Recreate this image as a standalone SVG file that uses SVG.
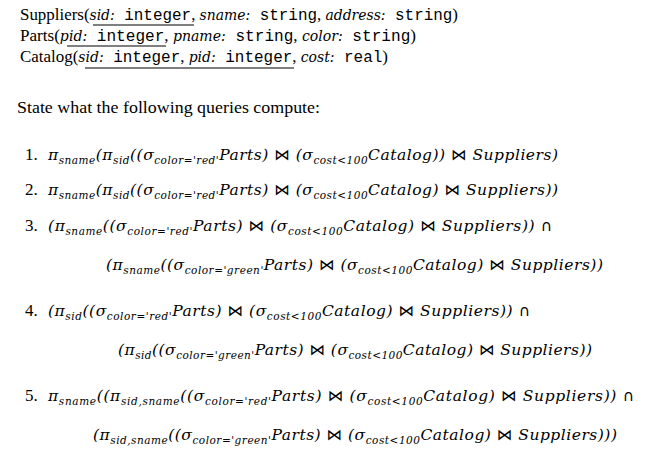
<svg xmlns="http://www.w3.org/2000/svg" width="663" height="462" viewBox="0 0 663 462">
<style>
text{font-family:"Liberation Serif",serif;font-size:17px;fill:#000}
.i{font-family:"DejaVu Serif",serif;font-style:italic;font-size:14px}
.m{font-family:"Liberation Mono",monospace;font-size:16px}
.q{font-family:"DejaVu Serif",serif;font-style:italic;font-size:15.5px}
.s{font-size:10.5px;font-style:italic}
.u{font-style:normal;font-family:"DejaVu Sans",sans-serif}
line{stroke:#000;stroke-width:1.2}
</style>
<rect width="663" height="462" fill="#fff"/>
<g id="schema">
<text x="20" y="20" textLength="438" lengthAdjust="spacingAndGlyphs">Suppliers(<tspan class="i">sid:</tspan><tspan class="m"> integer</tspan>, <tspan class="i">sname:</tspan><tspan class="m"> string</tspan>, <tspan class="i">address:</tspan><tspan class="m"> string</tspan>)</text>
<line x1="93" y1="25" x2="194" y2="25"/>
<text x="20" y="41" textLength="396" lengthAdjust="spacingAndGlyphs">Parts(<tspan class="i">pid:</tspan><tspan class="m"> integer</tspan>, <tspan class="i">pname:</tspan><tspan class="m"> string</tspan>, <tspan class="i">color:</tspan><tspan class="m"> string</tspan>)</text>
<line x1="67" y1="46" x2="166" y2="46"/>
<text x="20" y="62" textLength="368" lengthAdjust="spacingAndGlyphs">Catalog(<tspan class="i">sid:</tspan><tspan class="m"> integer</tspan>, <tspan class="i">pid:</tspan><tspan class="m"> integer</tspan>, <tspan class="i">cost:</tspan><tspan class="m"> real</tspan>)</text>
<line x1="85" y1="68" x2="294" y2="68"/>
<text x="17" y="113" textLength="303" lengthAdjust="spacingAndGlyphs">State what the following queries compute:</text>
</g>
<g id="queries">
<text x="25" y="160">1.</text>
<text class="q" x="48" y="160" textLength="510" lengthAdjust="spacing">π<tspan class="s" dy="4">sname</tspan><tspan dy="-4">(π</tspan><tspan class="s" dy="4">sid</tspan><tspan dy="-4">((σ</tspan><tspan class="s" dy="4">color='red'</tspan><tspan dy="-4">Parts) <tspan class="u">⋈</tspan> (σ</tspan><tspan class="s" dy="4">cost&lt;100</tspan><tspan dy="-4">Catalog)) <tspan class="u">⋈</tspan> Suppliers)</tspan></text>
<text x="25" y="195">2.</text>
<text class="q" x="48" y="195" textLength="510" lengthAdjust="spacing">π<tspan class="s" dy="4">sname</tspan><tspan dy="-4">(π</tspan><tspan class="s" dy="4">sid</tspan><tspan dy="-4">((σ</tspan><tspan class="s" dy="4">color='red'</tspan><tspan dy="-4">Parts) <tspan class="u">⋈</tspan> (σ</tspan><tspan class="s" dy="4">cost&lt;100</tspan><tspan dy="-4">Catalog) <tspan class="u">⋈</tspan> Suppliers))</tspan></text>
<text x="25" y="231">3.</text>
<text class="q" x="48" y="231" textLength="504" lengthAdjust="spacing">(π<tspan class="s" dy="4">sname</tspan><tspan dy="-4">((σ</tspan><tspan class="s" dy="4">color='red'</tspan><tspan dy="-4">Parts) <tspan class="u">⋈</tspan> (σ</tspan><tspan class="s" dy="4">cost&lt;100</tspan><tspan dy="-4">Catalog) <tspan class="u">⋈</tspan> Suppliers))  <tspan class="u">∩</tspan></tspan></text>
<text class="q" x="106" y="270" textLength="497" lengthAdjust="spacing">(π<tspan class="s" dy="4">sname</tspan><tspan dy="-4">((σ</tspan><tspan class="s" dy="4">color='green'</tspan><tspan dy="-4">Parts) <tspan class="u">⋈</tspan> (σ</tspan><tspan class="s" dy="4">cost&lt;100</tspan><tspan dy="-4">Catalog) <tspan class="u">⋈</tspan> Suppliers))</tspan></text>
<text x="25" y="316">4.</text>
<text class="q" x="48" y="316" textLength="482" lengthAdjust="spacing">(π<tspan class="s" dy="4">sid</tspan><tspan dy="-4">((σ</tspan><tspan class="s" dy="4">color='red'</tspan><tspan dy="-4">Parts) <tspan class="u">⋈</tspan> (σ</tspan><tspan class="s" dy="4">cost&lt;100</tspan><tspan dy="-4">Catalog) <tspan class="u">⋈</tspan> Suppliers))  <tspan class="u">∩</tspan></tspan></text>
<text class="q" x="118" y="355" textLength="474" lengthAdjust="spacing">(π<tspan class="s" dy="4">sid</tspan><tspan dy="-4">((σ</tspan><tspan class="s" dy="4">color='green'</tspan><tspan dy="-4">Parts) <tspan class="u">⋈</tspan> (σ</tspan><tspan class="s" dy="4">cost&lt;100</tspan><tspan dy="-4">Catalog) <tspan class="u">⋈</tspan> Suppliers))</tspan></text>
<text x="25" y="401">5.</text>
<text class="q" x="48" y="401" textLength="586" lengthAdjust="spacing">π<tspan class="s" dy="4">sname</tspan><tspan dy="-4">((π</tspan><tspan class="s" dy="4">sid,sname</tspan><tspan dy="-4">((σ</tspan><tspan class="s" dy="4">color='red'</tspan><tspan dy="-4">Parts) <tspan class="u">⋈</tspan> (σ</tspan><tspan class="s" dy="4">cost&lt;100</tspan><tspan dy="-4">Catalog) <tspan class="u">⋈</tspan> Suppliers))  <tspan class="u">∩</tspan></tspan></text>
<text class="q" x="93" y="440" textLength="524" lengthAdjust="spacing">(π<tspan class="s" dy="4">sid,sname</tspan><tspan dy="-4">((σ</tspan><tspan class="s" dy="4">color='green'</tspan><tspan dy="-4">Parts) <tspan class="u">⋈</tspan> (σ</tspan><tspan class="s" dy="4">cost&lt;100</tspan><tspan dy="-4">Catalog) <tspan class="u">⋈</tspan> Suppliers)))</tspan></text>
</g>
</svg>
